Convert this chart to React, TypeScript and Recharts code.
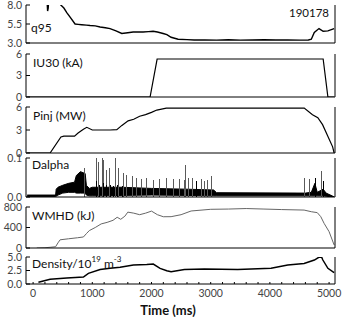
import React from 'react';
import { ComposedChart, Line, Area, Bar, XAxis, YAxis } from 'recharts';

// ---------- data ----------
const xDomain: [number, number] = [-120, 5100];
const xMinorTicks = [0, 200, 400, 600, 800, 1000, 1200, 1400, 1600, 1800, 2000, 2200, 2400, 2600, 2800, 3000, 3200, 3400, 3600, 3800, 4000, 4200, 4400, 4600, 4800, 5000];
const xLabelTicks = [0, 1000, 2000, 3000, 4000, 5000];

const q95Time = [230, 245, 255, 270, 456, 520, 569, 625, 709, 760, 822, 900, 963, 1050, 1132, 1220, 1300, 1400, 1498, 1600, 1690, 1780, 1858, 1950, 2027, 2100, 2196, 2260, 2331, 2449, 2600, 2720, 2900, 3100, 3300, 3500, 3700, 3900, 4100, 4300, 4500, 4650, 4700, 4750, 4830, 4900, 4980, 5085];
const q95Val = [9.5, 7.2, 7.6, 9.5, 8.1, 7.6, 7.0, 6.4, 5.5, 5.45, 5.4, 5.35, 5.3, 5.25, 5.1, 5.0, 4.9, 4.6, 4.25, 4.35, 4.45, 4.45, 4.45, 4.5, 4.55, 4.45, 4.25, 4.1, 3.75, 3.5, 3.45, 3.4, 3.4, 3.38, 3.42, 3.38, 3.4, 3.42, 3.4, 3.4, 3.38, 3.4, 3.5, 4.4, 4.9, 4.55, 4.6, 4.9];

const iu30Time = [-100, 1976, 2095, 4900, 4980, 5085];
const iu30Val = [0, 0, 5.3, 5.3, 0, 0];

const pinjTime = [-100, 287, 470, 520, 700, 760, 850, 907, 1000, 1100, 1300, 1414, 1500, 1605, 1700, 1800, 1900, 2000, 2090, 2250, 4580, 4720, 4810, 4890, 5060, 5085];
const pinjVal = [0, 0, 2.1, 2.2, 2.2, 2.6, 3.1, 3.35, 3.0, 3.0, 3.0, 3.05, 3.6, 4.2, 4.4, 4.8, 5.0, 5.3, 5.6, 5.85, 5.85, 5.0, 4.6, 3.7, 0.8, 0];

const dalphaBandTime = [-100, 380, 390, 420, 500, 600, 700, 730, 800, 880, 900, 950, 1000, 1500, 2000, 2600, 3050, 3100, 4600, 4700, 4760, 4800, 4900, 4950, 5050, 5085];
const dalphaBandLow = [0.001, 0.001, 0.002, 0.005, 0.01, 0.012, 0.012, 0.01, 0.01, 0.01, 0.005, 0.003, 0.003, 0.004, 0.005, 0.004, 0.003, 0.003, 0.003, 0.003, 0.003, 0.003, 0.003, 0.002, 0, 0];
const dalphaBandHigh = [0.005, 0.005, 0.02, 0.025, 0.03, 0.035, 0.038, 0.055, 0.065, 0.06, 0.03, 0.022, 0.025, 0.025, 0.022, 0.02, 0.018, 0.011, 0.01, 0.012, 0.035, 0.012, 0.02, 0.01, 0.003, 0];

const dalphaSpikeTime = [856, 1064, 1092, 1166, 1188, 1233, 1278, 1391, 1430, 1526, 1570, 1672, 1740, 1824, 1909, 2022, 2134, 2247, 2360, 2472, 2557, 2568, 2613, 2680, 2833, 2889, 2934, 3001, 4578, 4668, 4860];
const dalphaSpikeVal = [0.074, 0.1, 0.09, 0.1, 0.095, 0.07, 0.075, 0.1, 0.074, 0.061, 0.056, 0.053, 0.05, 0.045, 0.05, 0.043, 0.045, 0.05, 0.045, 0.045, 0.043, 0.082, 0.05, 0.05, 0.047, 0.04, 0.043, 0.055, 0.05, 0.045, 0.067];
const dalphaBurstTime = [1060, 1120, 1180, 1240, 1300, 1360, 1420, 1500, 2752, 4764, 4894];
const dalphaBurstVal = [0.04, 0.03, 0.035, 0.03, 0.03, 0.028, 0.03, 0.028, 0.04, 0.048, 0.04];

const wmhdTime = [62, 200, 300, 380, 420, 456, 600, 750, 850, 900, 950, 1050, 1150, 1250, 1350, 1420, 1480, 1550, 1600, 1700, 1800, 1900, 2000, 2100, 2200, 2331, 2500, 2669, 3000, 3300, 3600, 3900, 4200, 4578, 4700, 4800, 4860, 4916, 5000, 5085];
const wmhdVal = [0, 5, 15, 25, 100, 160, 180, 200, 215, 280, 340, 400, 470, 500, 540, 600, 560, 620, 700, 680, 650, 680, 720, 650, 610, 611, 650, 722, 755, 760, 770, 760, 750, 740, 708, 690, 611, 481, 319, 60];

const densTime = [90, 287, 569, 850, 934, 1132, 1300, 1470, 1694, 1920, 2030, 2145, 2258, 2331, 2556, 2894, 3457, 4020, 4302, 4578, 4752, 4865, 4895, 4980, 5085];
const densVal = [0.31, 0.87, 1.1, 1.3, 1.98, 2.7, 2.9, 3.09, 3.5, 3.6, 3.7, 2.9, 2.47, 2.28, 2.7, 2.77, 2.7, 2.9, 3.5, 3.8, 4.44, 5.2, 4.44, 2.9, 2.1];

const zip = (t: number[], v: number[]) => t.map((x, i) => ({ t: x, v: v[i] }));

const q95Data = zip(q95Time, q95Val);
const iu30Data = zip(iu30Time, iu30Val);
const pinjData = zip(pinjTime, pinjVal);
const wmhdData = zip(wmhdTime, wmhdVal);
const densData = zip(densTime, densVal);
const dalphaBand = dalphaBandTime.map((t, i) => ({ t, band: [dalphaBandLow[i], dalphaBandHigh[i]] }));
const dalphaBars = [
  ...dalphaSpikeTime.map((t, i) => ({ t, gray: dalphaSpikeVal[i], black: 0 })),
  ...dalphaBurstTime.map((t, i) => ({ t, gray: 0, black: dalphaBurstVal[i] })),
].sort((a, b) => a.t - b.t);

// ---------- styles ----------
const FONT = 'Lato, "Noto Sans", sans-serif';
const tickStyle = { fontSize: 10.5, fill: '#444', fontFamily: FONT };

type PanelProps = {
  top: number;
  height: number;
  data: any[];
  yDomain: [number, number];
  yTicks: number[];
  yFmt: (v: number) => string;
  showX?: boolean;
  children: React.ReactNode;
};

function Panel({ top, height, data, yDomain, yTicks, yFmt, showX, children }: PanelProps) {
  const mt = 8;
  const xh = showX ? 30 : 8;
  return (
    <div style={{ position: 'absolute', left: 0, top: top - mt }}>
      <ComposedChart
        width={342}
        height={height + mt + xh}
        data={data}
        margin={{ top: mt, right: 6, bottom: 0, left: 0 }}
        style={{ overflow: 'visible' }}
      >
        <XAxis
          xAxisId="b"
          dataKey="t"
          type="number"
          domain={xDomain}
          allowDataOverflow
          ticks={xMinorTicks}
          interval={0}
          tickSize={-2}
          tickMargin={showX ? 8 : 0}
          height={xh}
          stroke="#000"
          tick={showX ? tickStyle : false}
          tickFormatter={(v: number) => (xLabelTicks.includes(v) ? String(v) : '')}
        />
        <XAxis
          xAxisId="t"
          orientation="top"
          dataKey="t"
          type="number"
          domain={xDomain}
          allowDataOverflow
          ticks={xMinorTicks}
          interval={0}
          tickSize={-2}
          height={0}
          stroke="#000"
          tick={false}
        />
        <YAxis
          yAxisId="l"
          type="number"
          domain={yDomain}
          allowDataOverflow
          ticks={yTicks}
          interval={0}
          width={26}
          tickSize={-4}
          tickMargin={8}
          stroke="#000"
          tick={tickStyle}
          tickFormatter={yFmt}
        />
        <YAxis
          yAxisId="r"
          orientation="right"
          type="number"
          domain={yDomain}
          allowDataOverflow
          ticks={yTicks}
          interval={0}
          width={1}
          tickSize={-4}
          stroke="#000"
          tick={false}
        />
        {children}
      </ComposedChart>
    </div>
  );
}

const common = { xAxisId: 'b', yAxisId: 'l', isAnimationActive: false, dot: false, activeDot: false } as const;

const spikeShape = (color: string) => (p: any) =>
  p.height > 0 ? (
    <rect x={Math.round(p.x)} y={p.y} width={1} height={p.height} fill={color} shapeRendering="crispEdges" />
  ) : (
    <g />
  );

export default function App() {
  return (
    <div style={{ position: 'absolute', left: 0, top: 0, width: 342, height: 317, background: '#fff', overflow: 'hidden' }}>
      <Panel top={5} height={38} data={q95Data} yDomain={[3, 8]} yTicks={[3, 5.5, 8]} yFmt={(v) => v.toFixed(1)}>
        <Line {...common} type="linear" dataKey="v" stroke="#000" strokeWidth={1.4} />
      </Panel>
      <Panel top={54} height={43} data={iu30Data} yDomain={[0, 6]} yTicks={[0, 3, 6]} yFmt={(v) => String(v)}>
        <Line {...common} type="linear" dataKey="v" stroke="#000" strokeWidth={1.2} />
      </Panel>
      <Panel top={107} height={46} data={pinjData} yDomain={[0, 6]} yTicks={[0, 3, 6]} yFmt={(v) => String(v)}>
        <Line {...common} type="linear" dataKey="v" stroke="#000" strokeWidth={1.2} />
      </Panel>
      <Panel top={158} height={39} data={dalphaBars} yDomain={[0, 0.1]} yTicks={[0, 0.1]} yFmt={(v) => v.toFixed(1)}>
        <Area xAxisId="b" yAxisId="l" isAnimationActive={false} data={dalphaBand} type="linear" dataKey="band" stroke="#000" strokeWidth={1} fill="#000" fillOpacity={1} dot={false} activeDot={false} />
        <Bar xAxisId="b" yAxisId="l" isAnimationActive={false} dataKey="gray" stackId="s" fill="#555" barSize={1} shape={spikeShape('#5a5a5a')} />
        <Bar xAxisId="b" yAxisId="l" isAnimationActive={false} dataKey="black" stackId="s" fill="#000" barSize={1} shape={spikeShape('#000')} />
      </Panel>
      <Panel top={207} height={41} data={wmhdData} yDomain={[0, 800]} yTicks={[0, 400, 800]} yFmt={(v) => String(v)}>
        <Line {...common} type="linear" dataKey="v" stroke="#666" strokeWidth={1} />
      </Panel>
      <Panel top={257} height={27} data={densData} yDomain={[0, 5]} yTicks={[0, 2.5, 5]} yFmt={(v) => v.toFixed(1)} showX>
        <Line {...common} type="linear" dataKey="v" stroke="#000" strokeWidth={1.5} />
      </Panel>
      <svg width={342} height={317} style={{ position: 'absolute', left: 0, top: 0, pointerEvents: 'none' }} fontFamily={FONT}>
        <text x={329} y={12} textAnchor="end" dominantBaseline="central" fontSize={11.5} fill="#111">190178</text>
        <text x={31} y={27} dominantBaseline="central" fontSize={12} fill="#111">q95</text>
        <text x={33} y={62} dominantBaseline="central" fontSize={12} fill="#111">IU30 (kA)</text>
        <text x={33} y={115} dominantBaseline="central" fontSize={12} fill="#111">Pinj (MW)</text>
        <text x={32} y={164} dominantBaseline="central" fontSize={12} fill="#111">Dalpha</text>
        <text x={32} y={215} dominantBaseline="central" fontSize={12} fill="#111">WMHD (kJ)</text>
        <text x={32} y={263} dominantBaseline="central" fontSize={12} fill="#111">
          Density/10<tspan fontSize={8} dy={-4}>19</tspan><tspan dy={4}> m</tspan><tspan fontSize={8} dy={-4}>-3</tspan>
        </text>
        <text x={168} y={310} textAnchor="middle" dominantBaseline="central" fontSize={13} fontWeight={700} fill="#111">Time (ms)</text>
      </svg>
    </div>
  );
}
